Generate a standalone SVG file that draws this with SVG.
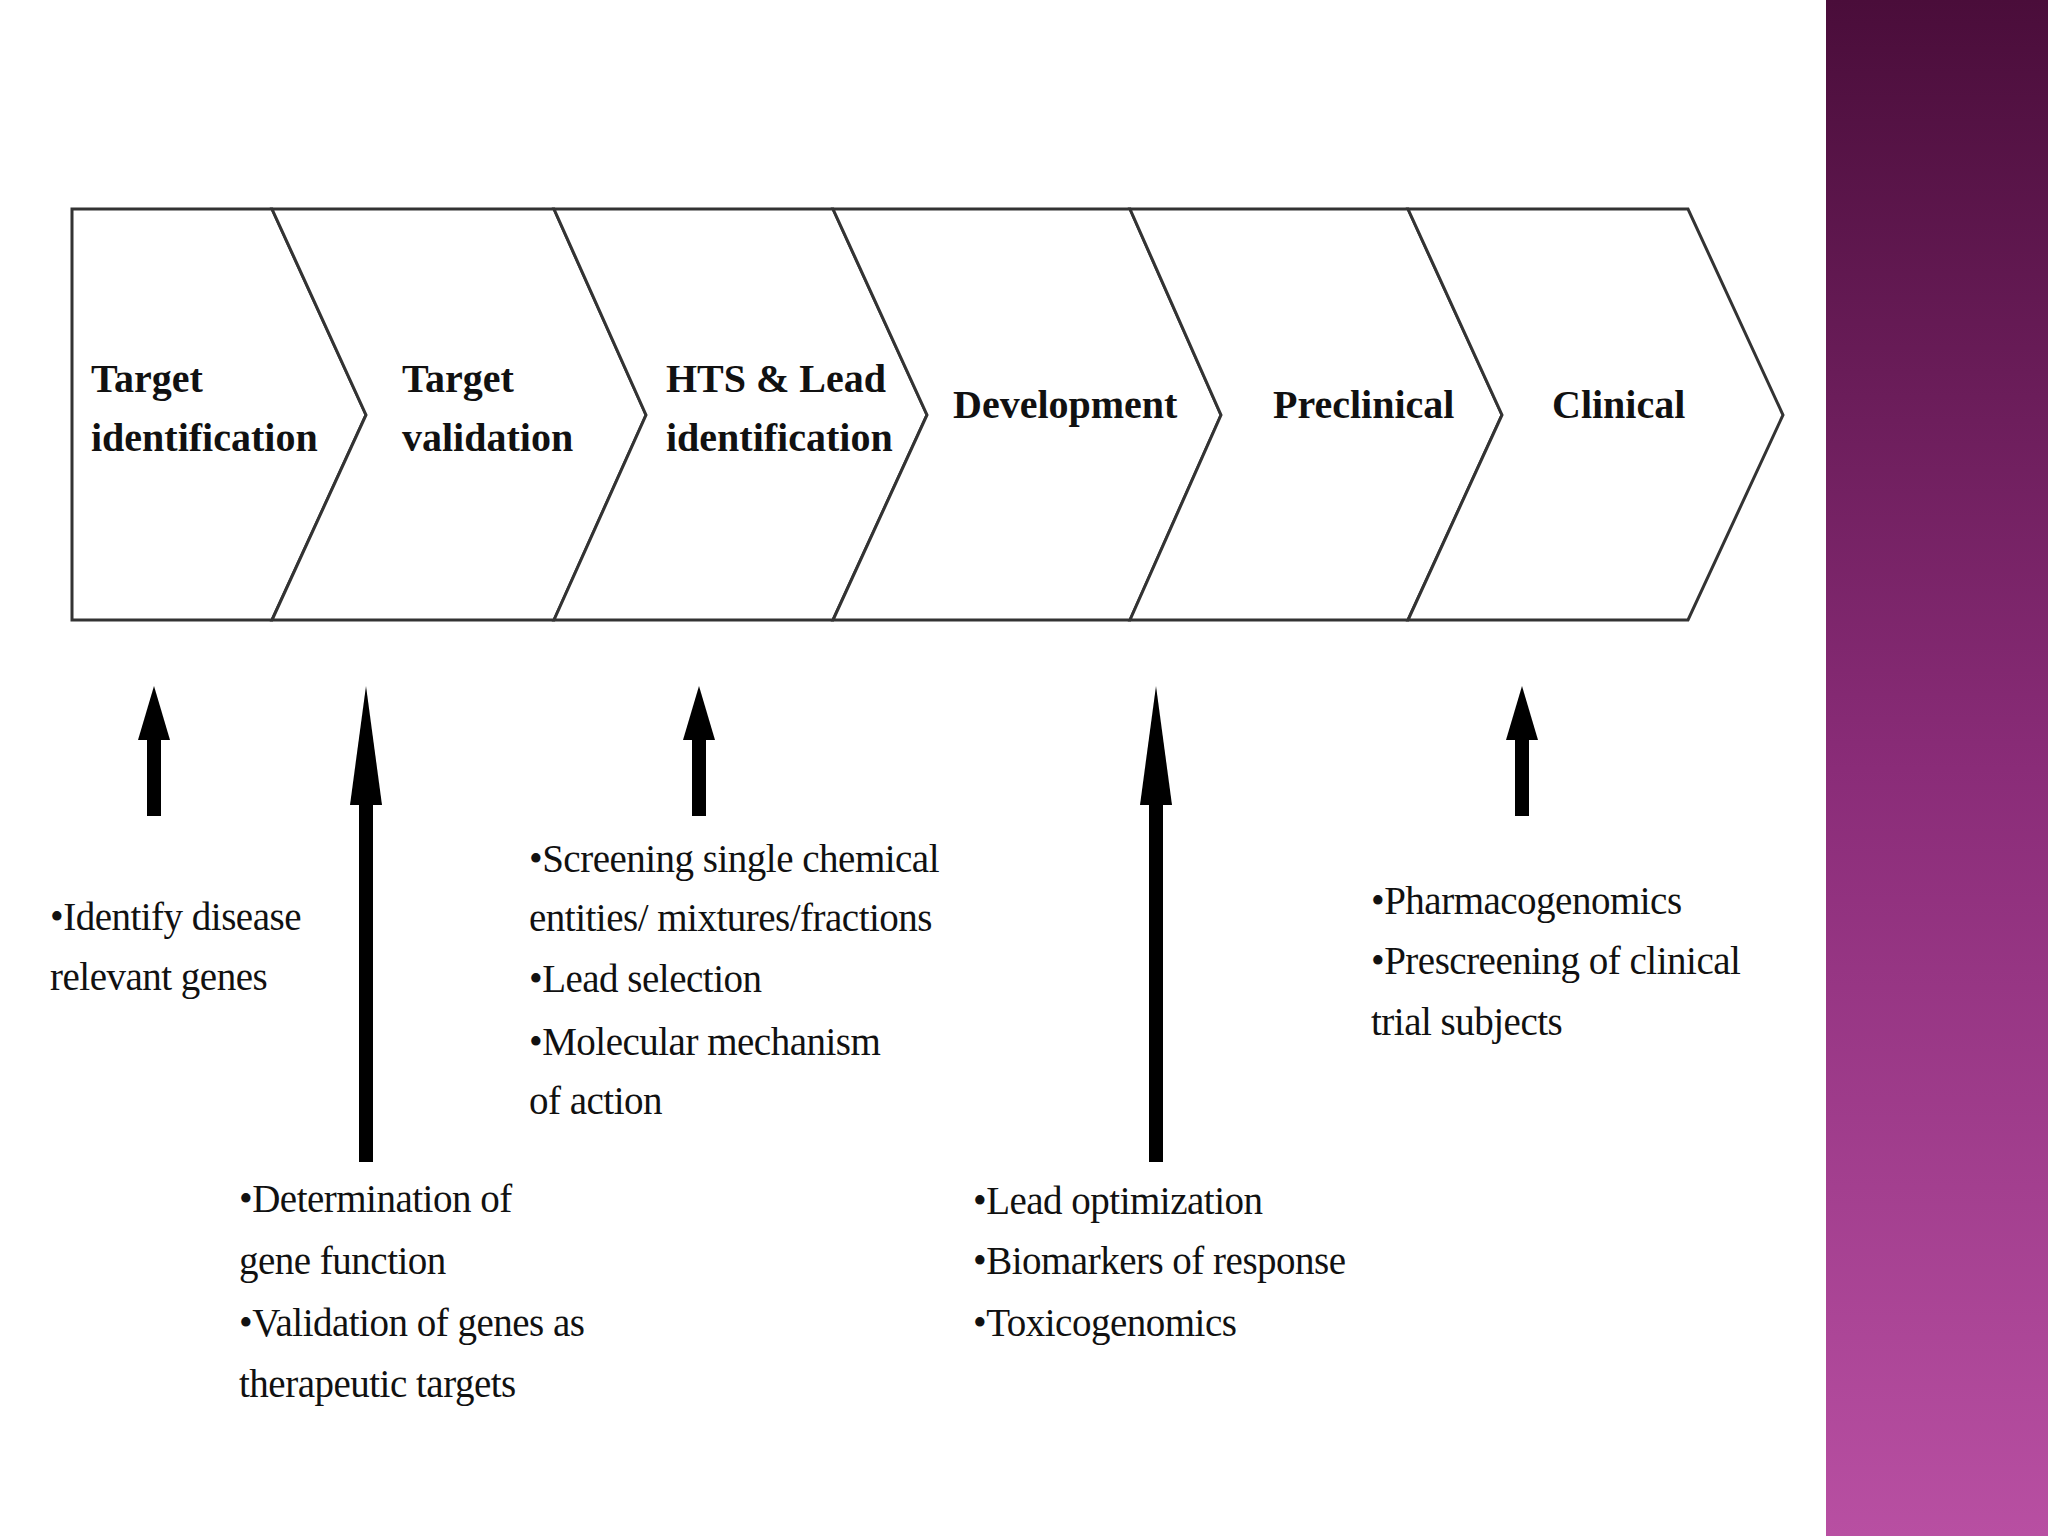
<svg xmlns="http://www.w3.org/2000/svg" width="2048" height="1536" viewBox="0 0 2048 1536">
<defs>
<linearGradient id="pg" x1="0" y1="0" x2="0" y2="1"><stop offset="0" stop-color="#4a0d3a"/><stop offset="0.5" stop-color="#8a2c78"/><stop offset="1" stop-color="#b84fa2"/></linearGradient>
</defs>
<style>
.ch{fill:#fff;stroke:#333;stroke-width:3}
.h{font-family:"Liberation Serif",serif;font-weight:bold;font-size:40px;fill:#111}
.t{font-family:"Liberation Serif",serif;font-size:39px;fill:#111;letter-spacing:-0.5px}
.ar{stroke:#000;stroke-width:14}
.hd{fill:#000}
</style>
<rect width="2048" height="1536" fill="#fff"/>
<rect x="1826" y="0" width="222" height="1536" fill="url(#pg)"/>
<g id="n1"><path class="ch" d="M72,209 L272,209 L366,415 L272,620 L72,620 Z"/><text class="h" x="91" y="392">Target</text><text class="h" x="91" y="451">identification</text></g>
<g id="n2"><path class="ch" d="M272,209 L554,209 L646,415 L554,620 L272,620 L366,415 Z"/><text class="h" x="402" y="392">Target</text><text class="h" x="402" y="451">validation</text></g>
<g id="n3"><path class="ch" d="M554,209 L833,209 L927,415 L833,620 L554,620 L646,415 Z"/><text class="h" x="666" y="392">HTS &amp; Lead</text><text class="h" x="666" y="451">identification</text></g>
<g id="n4"><path class="ch" d="M833,209 L1130,209 L1221,415 L1130,620 L833,620 L927,415 Z"/><text class="h" x="953" y="418">Development</text></g>
<g id="n5"><path class="ch" d="M1130,209 L1408,209 L1502,415 L1408,620 L1130,620 L1221,415 Z"/><text class="h" x="1273" y="418">Preclinical</text></g>
<g id="n6"><path class="ch" d="M1408,209 L1688,209 L1783,415 L1688,620 L1408,620 L1502,415 Z"/><text class="h" x="1552" y="418">Clinical</text></g>
<g id="connectors">
<line class="ar" x1="154" y1="816" x2="154" y2="730"/><polygon class="hd" points="154,686 170,740 138,740"/>
<line class="ar" x1="366" y1="1162" x2="366" y2="760"/><polygon class="hd" points="366,686 382,805 350,805"/>
<line class="ar" x1="699" y1="816" x2="699" y2="730"/><polygon class="hd" points="699,686 715,740 683,740"/>
<line class="ar" x1="1156" y1="1162" x2="1156" y2="760"/><polygon class="hd" points="1156,686 1172,805 1140,805"/>
<line class="ar" x1="1522" y1="816" x2="1522" y2="730"/><polygon class="hd" points="1522,686 1538,740 1506,740"/>
</g>
<g id="l1"><text class="t" x="50" y="930">•Identify disease</text><text class="t" x="50" y="990">relevant genes</text></g>
<g id="l2"><text class="t" x="239" y="1212">•Determination of</text><text class="t" x="239" y="1274">gene function</text><text class="t" x="239" y="1336">•Validation of genes as</text><text class="t" x="239" y="1397">therapeutic targets</text></g>
<g id="l3"><text class="t" x="529" y="872">•Screening single chemical</text><text class="t" x="529" y="931">entities/ mixtures/fractions</text><text class="t" x="529" y="992">•Lead selection</text><text class="t" x="529" y="1055">•Molecular mechanism</text><text class="t" x="529" y="1114">of action</text></g>
<g id="l4"><text class="t" x="973" y="1214">•Lead optimization</text><text class="t" x="973" y="1274">•Biomarkers of response</text><text class="t" x="973" y="1336">•Toxicogenomics</text></g>
<g id="l5"><text class="t" x="1371" y="914">•Pharmacogenomics</text><text class="t" x="1371" y="974">•Prescreening of clinical</text><text class="t" x="1371" y="1035">trial subjects</text></g>
</svg>
